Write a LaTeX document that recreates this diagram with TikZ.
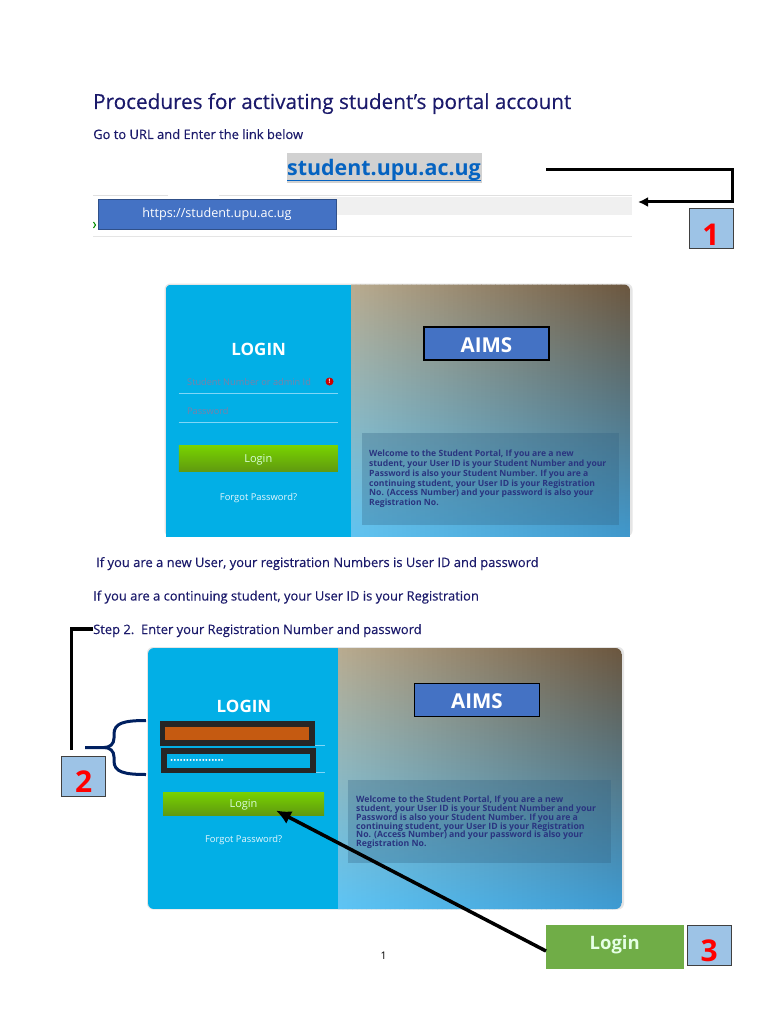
\documentclass[tikz,border=0pt]{standalone}
\usepackage{fontspec}
\setmainfont{Open Sans}
\newfontfamily\headfont[FakeBold=0.3]{Open Sans}
\usetikzlibrary{arrows.meta}
\definecolor{headnavy}{HTML}{1B1A6B}
\definecolor{linkblue}{HTML}{0563C1}
\definecolor{boxblue}{HTML}{4472C4}
\definecolor{stepblue}{HTML}{9DC3E6}
\definecolor{panelblue}{HTML}{02AFE6}
\definecolor{lefttop}{HTML}{B9AB8F}
\definecolor{righttop}{HTML}{6C573F}
\definecolor{leftmid}{HTML}{9EC5D2}
\definecolor{rightmid}{HTML}{5E7880}
\definecolor{leftbot}{HTML}{5CC4F5}
\definecolor{rightbot}{HTML}{3D9BD3}
\definecolor{msgnavy}{HTML}{2A3580}
\definecolor{msgshade}{HTML}{2F5F80}
\definecolor{bracenavy}{HTML}{002060}
\definecolor{loginfill}{HTML}{70AD47}
\definecolor{btntop}{HTML}{78D200}
\definecolor{btnbot}{HTML}{609A10}
\definecolor{hintgrey}{HTML}{7A80A8}
\definecolor{fieldorange}{HTML}{C55A11}
\tikzset{
  heading/.style={anchor=base west,inner sep=0pt,text=headnavy,font=\headfont\fontsize{12.95}{14}\selectfont},
  stepbox/.style={draw=black!75,line width=1pt,fill=stepblue,text=red,inner sep=0pt,
    text height=33pt,text depth=0pt,font=\fontsize{30}{32}\bfseries\selectfont},
  aimsbox/.style={draw=black,line width=1.5pt,fill=boxblue,text=white,inner sep=0pt,
    minimum width=125pt,minimum height=33pt,text height=18pt,font=\fontsize{20.5}{22}\bfseries\selectfont},
  logintitle/.style={text=white,inner sep=0pt,font=\fontsize{17}{19}\bfseries\selectfont},
  loginbtn/.style={top color=btntop,bottom color=btnbot,text depth=0pt,
    text=white!85!green,inner sep=0pt,font=\fontsize{11}{12}\selectfont},
  forgot/.style={text=white!90!cyan,inner sep=0pt,font=\fontsize{9.4}{10}\selectfont},
  msgbox/.style={text=msgnavy,anchor=north west,align=left,inner sep=0pt},
  fieldtext/.style={anchor=base west,inner sep=0pt,text=hintgrey,
    font=\fontsize{9.2}{10}\selectfont},
  blackbox/.style={fill=black!85,inner sep=0pt},
  fatline/.style={line width=3.5pt,black}
}
% left blue part and the shaded right part of a login screen
\newcommand{\panelbg}[6]{
  \fill[rounded corners=6pt,black!10] (#1-1,#4-1) rectangle (#3+2.5,#5+.5);
  \begin{scope}
    \clip (#1,#4) rectangle (#3,#5);
    \clip[rounded corners=6pt] (#1,#4) rectangle (#3,#6);
    \fill[panelblue] (#1,#4) rectangle (#2,#6);
    \pgfmathsetmacro{\stripw}{(#3-#2)/60}
    \foreach \i in {0,...,59} {
      \pgfmathsetmacro{\q}{100-100*\i/59}
      \shade[top color=lefttop!\q!righttop,middle color=leftmid!\q!rightmid,bottom color=leftbot!\q!rightbot]
        (#2+\i*\stripw,#4) rectangle (#2+\i*\stripw+\stripw+.6,#6);
    }
  \end{scope}
}
\begin{document}
\begin{tikzpicture}[x=1pt,y=-1pt]
\useasboundingbox (0,0) rectangle (768,1024);
\fill[white] (0,0) rectangle (768,1024);

\node[heading,font=\headfont\fontsize{20.7}{24}\selectfont] (title) at (93,109) {Procedures for activating student’s portal account};
\node[heading] (gourl) at (93,139) {Go to URL and Enter the link below};

% link and address bar
\fill[black!18] (287,153) rectangle (482,183);
\node[inner sep=0pt,text=linkblue,font=\fontsize{21.4}{24}\bfseries\selectfont] (link) at (384,170) {student.upu.ac.ug};
\draw[linkblue,line width=1.2pt] (287,180.5) -- (481,180.5);
\draw[black!12] (93,195) -- (168,195);
\draw[black!12] (219,195) -- (632,195);
\draw[black!10] (93,236.5) -- (632,236.5);
\fill[black!6] (300,197) rectangle (632,215);
\draw[green!55!black,line width=1pt] (93.5,222) -- (95.5,225) -- (93.5,228);
\node[draw=boxblue!70!black,fill=boxblue,text=white,inner sep=0pt,minimum width=238pt,minimum height=30pt,
  font=\fontsize{12.6}{14}\selectfont] (urlbox) at (217,214) {https://student.upu.ac.ug};
\coordinate (urlstart) at (546,170);
\coordinate (urlcorner) at (732,170);
\coordinate (urlbend) at (732,202);
\coordinate (urlend) at (638,202);
\draw[line width=3pt,-{Latex[length=10pt,width=10pt]}] (urlstart) -- (urlcorner) -- (urlbend) -- (urlend);
\node[stepbox,minimum width=44pt,minimum height=40pt] (stepone) at (711,228.5) {1};

% first login screen
\panelbg{165.5}{351}{630}{284.5}{536}{548}
\node[aimsbox] (aimsone) at (486.5,343.5) {AIMS};
\node[logintitle] (loginone) at (258.7,349) {LOGIN};
\node[fieldtext] (userhint) at (187,385) {Student Number or admin Id};
\node[circle,fill=red!80!black,text=white,inner sep=0pt,minimum size=8pt,font=\fontsize{6}{7}\bfseries\selectfont] (warnmark) at (329.5,381.5) {!};
\draw[cyan!50!white] (178.7,392.7) -- (338,392.7);
\node[fieldtext] (passhint) at (187,414) {Password};
\draw[cyan!50!white] (178.7,422) -- (338,422);
\node[loginbtn,minimum width=159pt,minimum height=25.5pt] (btnone) at (258.3,458.5) {Login};
\node[forgot] (forgotone) at (258.5,498) {Forgot Password?};
\fill[msgshade,opacity=.3] (361.7,432.7) rectangle (619,525);
\node[msgbox,font=\fontsize{8.6}{9.75}\bfseries\selectfont] (msgone) at (369,450)
  {Welcome to the Student Portal, If you are a new\\student, your User ID is your Student Number and your\\
   Password is also your Student Number. If you are a\\continuing student, your User ID is your Registration\\
   No. (Access Number) and your password is also your\\Registration No.};

\node[heading] (newuser) at (96,567) {If you are a new User, your registration Numbers is User ID and password};
\node[heading] (oldstudent) at (93,600.5) {If you are a continuing student, your User ID is your Registration};
\node[heading] (steptwo) at (93,634) {Step 2.\ \ Enter your Registration Number and password};

% second login screen
\panelbg{148}{338}{621.5}{648}{909}{909}
\node[aimsbox] (aimstwo) at (477,700) {AIMS};
\node[logintitle] (logintwo) at (244,706.7) {LOGIN};
\draw[cyan!50!white] (315,745.3) -- (325,745.3);
\draw[cyan!50!white] (316,771.7) -- (325,771.7);
\node[blackbox,minimum width=155.3pt,minimum height=25pt] (userfield) at (237.3,733.5) {};
\fill[fieldorange] (165,727) rectangle (309,740);
\node[blackbox,minimum width=155.3pt,minimum height=25.3pt] (passfield) at (238.3,760.6) {};
\fill[panelblue] (166.7,753.7) rectangle (310,768);
\node[anchor=west,inner sep=0pt,text=white,font=\fontsize{8.4}{9}\selectfont] (passdots) at (170,761.5) {•••••••••••••••••};
\node[loginbtn,minimum width=161pt,minimum height=23pt] (btntwo) at (243.5,803.5) {Login};
\node[forgot] (forgottwo) at (243.7,840) {Forgot Password?};
\fill[msgshade,opacity=.3] (348,780) rectangle (610.7,862.7);
\node[msgbox,font=\fontsize{8.7}{8.9}\bfseries\selectfont] (msgtwo) at (356,795.5)
  {Welcome to the Student Portal, If you are a new\\student, your User ID is your Student Number and your\\
   Password is also your Student Number. If you are a\\continuing student, your User ID is your Registration\\
   No. (Access Number) and your password is also your\\Registration No.};

% brace and step 2
\coordinate (bracetop) at (146,720.5);
\coordinate (braceend) at (146,774.5);
\coordinate (bracetip) at (85,747.5);
\coordinate (bracemid) at (104,747.5);
\draw[bracenavy,line width=3pt] (bracetop) .. controls (124,720.5) and (114,723) .. (114,734)
  -- (114,738) .. controls (114,744) and (110,747.5) .. (bracemid) -- (bracetip);
\draw[bracenavy,line width=3pt] (braceend) .. controls (124,774.5) and (114,772) .. (114,761)
  -- (114,757) .. controls (114,751) and (110,747.5) .. (bracemid);
\coordinate (stepcorner) at (71.5,629);
\coordinate (stepfoot) at (71.5,750);
\coordinate (stepstart) at (93,629);
\draw[fatline] (stepfoot) -- (stepcorner) -- (stepstart);
\node[stepbox,minimum width=43.7pt,minimum height=40pt] (stepnum) at (83.8,776) {2};

% login button and step 3
\node[fill=loginfill,text=white!90!green,inner sep=0pt,minimum width=138pt,minimum height=44.3pt,
  text depth=8.5pt,font=\fontsize{18.5}{20}\bfseries\selectfont] (loginbig) at (614.7,947.2) {Login};
\coordinate (loginfoot) at (546,951);
\coordinate (logintip) at (276,810.5);
\draw[fatline,-{Latex[length=15pt,width=14pt]}] (loginfoot) -- (logintip);
\node[stepbox,minimum width=44pt,minimum height=40pt] (stepthree) at (709.3,945.3) {3};
\node[inner sep=0pt,font=\fontsize{10.5}{12}\selectfont] (pagenum) at (383.7,956) {1};
\end{tikzpicture}
\end{document}
